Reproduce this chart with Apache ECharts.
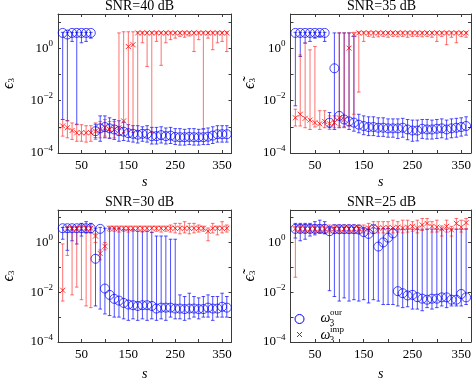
<!DOCTYPE html>
<html><head><meta charset="utf-8">
<script src="https://cdn.jsdelivr.net/npm/echarts@6.0.0/dist/echarts.min.js"></script>
<style>html,body{margin:0;padding:0;background:#fff}#c{width:474px;height:382px}</style>
</head><body><div id="c"></div>
<script>
// sample sizes s
const sVals = [10,20,30,40,50,60,70,80,90,100,110,120,130,140,150,160,170,180,190,200,210,220,230,240,250,260,270,280,290,300,310,320,330,340,350,360];
const xTickLabels = [50,150,250,350];
const titles = ['SNR=40 dB','SNR=35 dB','SNR=30 dB','SNR=25 dB'];

// SNR = 40 dB
const snr40_our    = [3.8,3.3,3.8,3.8,3.8,3.8,3.8,6.8e-4,8.7e-4,9.8e-4,8.7e-4,7.9e-4,6.8e-4,6.5e-4,5.7e-4,5.4e-4,5.0e-4,5.4e-4,5.4e-4,4.4e-4,4.4e-4,4.8e-4,4.4e-4,4.6e-4,4.1e-4,4.0e-4,4.0e-4,4.1e-4,4.0e-4,4.0e-4,4.0e-4,4.2e-4,4.6e-4,5.2e-4,5.2e-4,5.2e-4];
const snr40_our_lo = [1.9e-3,1.7e-3,1.8,1.25e-3,1.6,1.8,2.4,3.8e-4,2.8e-4,3.8e-4,3.6e-4,3.3e-4,2.8e-4,3.0e-4,2.8e-4,2.6e-4,2.4e-4,2.8e-4,2.6e-4,2.2e-4,2.2e-4,2.4e-4,2.2e-4,2.3e-4,2.1e-4,2.0e-4,2.0e-4,2.1e-4,2.0e-4,2.0e-4,2.1e-4,2.1e-4,2.3e-4,2.6e-4,2.6e-4,2.6e-4];
const snr40_our_hi = [4.0,4.0,4.0,4.0,4.0,4.0,4.0,1.25e-3,2.6e-3,2.6e-3,2.2e-3,1.9e-3,1.7e-3,1.5e-3,1.2e-3,1.1e-3,1.1e-3,1.0e-3,1.1e-3,9.5e-4,9.5e-4,1.0e-3,9.0e-4,9.5e-4,8.5e-4,8.5e-4,8.0e-4,8.5e-4,8.5e-4,8.0e-4,8.5e-4,9.0e-4,1.0e-3,1.1e-3,1.1e-3,1.1e-3];
const snr40_imp    = [1.07e-3,9.2e-4,7.2e-4,5.9e-4,5.9e-4,5.9e-4,5.9e-4,6.8e-4,7.9e-4,9.2e-4,7.9e-4,7.9e-4,9.2e-4,1.67e-3,1.15,1.35,3.8,3.8,3.8,3.8,3.8,3.8,3.8,3.8,3.8,3.8,3.8,3.8,3.8,3.8,3.8,3.8,3.8,3.8,3.8,3.8];
const snr40_imp_lo = [4.4e-4,3.8e-4,3.3e-4,2.8e-4,2.8e-4,2.6e-4,2.8e-4,3.3e-4,3.8e-4,4.4e-4,3.8e-4,3.8e-4,5.0e-4,6.0e-4,6.8e-4,6.0e-4,6.8e-4,1.6,0.2,6.0e-4,1.8,0.22,1.6,2.1,2.4,2.8,2.6,2.9,0.74,2.1,7.9e-4,2.4,0.87,1.6,1.8,0.74];
const snr40_imp_hi = [1.9e-3,1.7e-3,1.4e-3,1.2e-3,1.2e-3,1.1e-3,1.1e-3,1.4e-3,1.6e-3,1.9e-3,1.6e-3,1.6e-3,3.8,4.2,4.2,4.2,4.2,4.2,4.2,4.2,4.2,4.2,4.2,4.2,4.2,4.2,4.2,4.2,4.2,4.2,4.2,4.2,4.2,4.2,4.2,4.2];

// SNR = 35 dB
const snr35_our    = [3.8,3.8,3.8,3.8,3.8,3.8,3.8,1.44e-3,0.17,2.6e-3,1.9e-3,1.6e-3,1.44e-3,1.2e-3,1.07e-3,9.8e-4,9.8e-4,9.2e-4,9.2e-4,8.7e-4,8.7e-4,8.7e-4,9.2e-4,7.9e-4,7.2e-4,7.2e-4,8.4e-4,7.9e-4,7.9e-4,8.4e-4,8.7e-4,7.9e-4,8.7e-4,9.2e-4,9.8e-4,1.07e-3];
const snr35_our_lo = [6.3e-3,0.48,1.56,1.8,2.4,2.8,1.8,9.2e-4,7.9e-4,9.2e-4,9.8e-4,7.9e-4,6.8e-4,5.9e-4,5.0e-4,4.6e-4,4.6e-4,4.3e-4,4.3e-4,4.0e-4,4.0e-4,3.6e-4,4.0e-4,3.2e-4,2.8e-4,2.9e-4,3.6e-4,3.4e-4,3.4e-4,3.6e-4,3.8e-4,3.4e-4,3.8e-4,4.0e-4,4.4e-4,4.8e-4];
const snr35_our_hi = [4.0,4.0,4.0,4.0,4.0,4.0,4.0,3.5e-3,3.8,3.8,3.8,3.8,2.8,3.0e-3,2.6e-3,2.4e-3,2.4e-3,2.2e-3,2.2e-3,2.0e-3,2.0e-3,2.0e-3,2.1e-3,1.9e-3,1.8e-3,1.8e-3,1.9e-3,1.9e-3,1.8e-3,1.9e-3,2.0e-3,1.8e-3,2.0e-3,2.1e-3,2.2e-3,2.4e-3];
const snr35_imp    = [2.2e-3,3.0e-3,2.1e-3,1.8e-3,1.44e-3,1.3e-3,1.6e-3,1.3e-3,1.44e-3,2.2e-3,1.9e-3,1.0,3.3,3.8,3.8,3.8,3.8,3.8,3.8,3.8,3.8,3.8,3.8,3.8,3.8,3.8,3.8,3.8,3.8,3.8,3.8,3.8,3.8,3.8,3.8,3.8];
const snr35_imp_lo = [1.07e-3,1.07e-3,9.2e-4,7.9e-4,9.8e-4,7.9e-4,9.2e-4,7.9e-4,9.2e-4,1.07e-3,9.2e-4,1.07e-3,3.0e-3,0.021,1.8,2.8,2.6,2.7,2.8,2.6,2.8,2.7,2.8,2.6,2.8,2.8,2.7,2.8,2.6,1.8,2.8,1.35,2.6,1.6,2.8,2.6];
const snr35_imp_hi = [4.7e-3,0.55,1.56,0.86,1.16,4.1e-3,4.1e-3,2.6e-3,2.6e-3,3.8,3.8,3.8,4.0,4.2,4.2,4.2,4.2,4.2,4.2,4.2,4.2,4.2,4.2,4.2,4.2,4.2,4.2,4.2,4.2,4.2,4.2,4.2,4.2,4.2,4.2,4.2];

// SNR = 30 dB
const snr30_our    = [3.7,3.7,3.7,3.7,3.7,3.7,3.7,0.22,3.5,0.014,7.8e-3,5.4e-3,4.6e-3,3.7e-3,3.2e-3,3.0e-3,2.8e-3,3.0e-3,3.0e-3,2.8e-3,2.2e-3,2.4e-3,2.4e-3,2.4e-3,2.2e-3,2.2e-3,2.1e-3,2.2e-3,2.2e-3,2.1e-3,2.1e-3,2.4e-3,2.2e-3,2.2e-3,2.6e-3,2.4e-3];
const snr30_our_lo = [1.34,0.48,1.16,0.86,1.8,2.4,2.4,2.8e-3,2.1e-3,1.34e-3,1.15e-3,1.0e-3,1.0e-3,8.5e-4,7.4e-4,8.5e-4,7.4e-4,8.5e-4,7.4e-4,8.5e-4,7.4e-4,8.5e-4,7.4e-4,1.0e-3,8.5e-4,8.5e-4,7.4e-4,8.5e-4,1.0e-3,8.5e-4,1.0e-3,1.0e-3,7.4e-4,1.0e-3,1.0e-3,1.0e-3];
const snr30_our_hi = [4.0,4.0,4.0,4.0,5.8,6.8,5.8,3.7,4.0,3.7,3.7,3.7,3.7,3.2,3.2,3.2,2.8,2.8,2.8,2.5,1.8,1.8,1.8,1.34,1.34,7.8e-3,6.7e-3,9.1e-3,6.7e-3,5.9e-3,6.7e-3,7.8e-3,6.7e-3,6.7e-3,9.1e-3,6.7e-3];
const snr30_imp    = [0.012,3.7,3.7,3.7,3.7,3.7,3.7,1.8,0.36,0.7,3.7,3.7,3.7,3.7,3.7,3.7,3.7,3.7,3.7,3.7,3.7,3.7,3.7,3.7,3.7,3.7,3.7,3.7,3.7,3.7,3.7,2.8,3.7,3.7,3.7,3.7];
const snr30_imp_lo = [4.4e-3,0.3,7.8e-3,0.016,5.0e-3,2.8e-3,2.4e-3,1.0,0.2,0.5,2.8,2.8,2.6,2.8,2.6,2.8,2.8,2.6,2.8,2.6,2.8,2.6,2.8,2.6,2.4,2.2,2.4,2.2,2.4,2.6,2.8,1.16,2.4,2.0,2.4,2.6];
const snr30_imp_hi = [0.87,4.2,4.2,4.2,4.2,4.2,4.2,2.2,0.5,1.0,4.5,4.5,4.5,4.5,4.5,4.5,4.5,4.5,4.5,4.5,4.5,4.5,4.5,5.0,5.8,5.8,6.8,5.8,5.8,5.0,4.5,3.8,5.8,4.5,6.8,5.0];

// SNR = 25 dB
const snr25_our    = [3.5,3.5,3.5,3.5,3.5,3.5,3.5,2.8,3.4,3.4,3.4,3.4,3.4,3.3,2.6,2.2,3.4,0.68,1.0,1.55,2.3,0.011,9.1e-3,7.4e-3,7.8e-3,6.3e-3,5.5e-3,5.0e-3,5.5e-3,5.5e-3,6.2e-3,6.2e-3,5.0e-3,5.0e-3,8.5e-3,6.2e-3];
const snr25_our_lo = [1.5,1.16,1.34,1.8,2.0,2.4,2.2,0.0115,6.7e-3,4.4e-3,5.9e-3,4.4e-3,5.0e-3,4.4e-3,5.0e-3,3.7e-3,5.0e-3,4.4e-3,3.2e-3,3.2e-3,3.2e-3,2.8e-3,2.4e-3,2.6e-3,2.1e-3,2.1e-3,1.8e-3,2.4e-3,2.1e-3,2.4e-3,2.8e-3,2.4e-3,2.8e-3,2.8e-3,2.8e-3,3.2e-3];
const snr25_our_hi = [5.8,5.8,5.8,5.8,6.8,7.8,6.8,3.5,4.0,4.0,4.0,4.0,4.0,4.0,3.5,3.4,3.8,3.6,3.6,3.6,3.6,3.4,3.4,3.4,3.4,3.4,3.4,3.4,3.4,3.4,3.4,3.4,3.4,3.4,3.4,3.4];
const snr25_imp    = [3.5,3.5,3.5,3.5,3.5,3.5,3.5,3.5,3.5,3.5,3.5,3.5,3.5,3.5,3.5,3.8,4.4,3.8,3.8,4.0,3.8,4.1,3.8,4.1,4.4,3.8,5.0,5.8,4.4,4.1,3.5,4.4,3.2,5.8,4.1,6.2];
const snr25_imp_lo = [0.04,2.4,2.4,2.4,2.4,2.4,2.4,2.4,2.4,2.4,2.4,2.4,2.4,2.4,2.4,2.2,2.6,2.4,2.4,2.6,2.4,2.6,2.4,2.6,2.8,2.4,3.0,3.4,2.6,2.6,1.8,2.6,1.8,3.4,2.6,3.6];
const snr25_imp_hi = [4.4,5.0,5.0,5.0,5.0,5.0,5.0,5.0,5.0,5.0,5.0,5.0,5.0,5.0,5.0,5.8,6.8,6.8,6.8,6.8,7.8,6.8,7.8,7.8,6.8,7.8,9.1,9.1,6.8,7.8,4.6,7.8,4.4,9.1,7.8,9.1];

const panelData = [
  [snr40_our, snr40_our_lo, snr40_our_hi, snr40_imp, snr40_imp_lo, snr40_imp_hi],
  [snr35_our, snr35_our_lo, snr35_our_hi, snr35_imp, snr35_imp_lo, snr35_imp_hi],
  [snr30_our, snr30_our_lo, snr30_our_hi, snr30_imp, snr30_imp_lo, snr30_imp_hi],
  [snr25_our, snr25_our_lo, snr25_our_hi, snr25_imp, snr25_imp_lo, snr25_imp_hi]
];

const FONT = 'Liberation Serif';
const grids = [
  {left:47.5, top:14, width:184, height:139},
  {left:290.5, top:14, width:182, height:139},
  {left:47.5, top:210, width:184, height:138},
  {left:290.5, top:210, width:182, height:138}
];
const BLUE = '#0000ff', RED = '#ff0000';
const BLUE_BAR = 'rgba(20,20,255,0.75)', RED_BAR = 'rgba(255,20,20,0.6)';
const AXC = '#3a3a3a';

function errBar(xi, xs, lo, hi, color) {
  return {
    type:'custom', xAxisIndex:xi, yAxisIndex:xi, silent:true, animation:false, clip:true,
    data: xs.map((x,k)=>[x, lo[k], hi[k]]),
    encode:{x:0, y:[1,2]},
    renderItem(params, api) {
      const x = api.value(0);
      const p1 = api.coord([x, api.value(1)]);
      const p2 = api.coord([x, api.value(2)]);
      const w = 1.8;
      const st = {stroke:color, lineWidth:1};
      return {type:'group', children:[
        {type:'line', shape:{x1:p1[0], y1:p1[1], x2:p2[0], y2:p2[1]}, style:st},
        {type:'line', shape:{x1:p1[0]-w, y1:p1[1], x2:p1[0]+w, y2:p1[1]}, style:st},
        {type:'line', shape:{x1:p2[0]-w, y1:p2[1], x2:p2[0]+w, y2:p2[1]}, style:st}
      ]};
    }
  };
}

const xAxes = [], yAxes = [], series = [], titleArr = [];
grids.forEach((g, i) => {
  const common = {gridIndex:i, min:0, max:370, interval:50, splitLine:{show:false},
    axisLine:{show:true, onZero:false, lineStyle:{color:AXC, width:1}},
    axisTick:{show:true, inside:true, length:3, lineStyle:{color:AXC}}};
  xAxes.push(Object.assign({}, common, {type:'value', position:'bottom',
    axisLabel:{color:'#000', fontFamily:FONT, fontSize:13, margin:6,
      formatter: v => xTickLabels.includes(v) ? String(v) : ''},
    name:'s', nameLocation:'middle', nameGap: i < 2 ? 22 : 25,
    nameTextStyle:{fontFamily:FONT, fontStyle:'italic', fontSize:14, color:'#000'}}));
  xAxes.push(Object.assign({}, common, {type:'value', position:'top', axisLabel:{show:false}}));
  const ycommon = {gridIndex:i, type:'log', logBase:10, min:1e-4, max:20, interval:1,
    splitLine:{show:false}, axisLine:{show:true, onZero:false, lineStyle:{color:AXC, width:1}},
    axisTick:{show:true, inside:true, length:3, lineStyle:{color:AXC}}};
  const right = (i % 2 === 1);
  yAxes.push(Object.assign({}, ycommon, {position:'left',
    axisLabel:{margin:5, showMaxLabel:false,
      formatter: v => { const e = Math.round(Math.log10(v)); if (e % 2 !== 0 || e > 0) return ''; return '{b|10}{s|' + (e < 0 ? '\u2212' + (-e) : e) + '}'; },
      rich:{ b:{fontFamily:FONT, fontSize:13, color:'#000'}, s:{fontFamily:FONT, fontSize:9, color:'#000', padding:[0,0,9,0]} }},
    name: right ? '{e|\u03f5\u0303}{sub|3}' : '{e|\u03f5}{sub|3}',
    nameLocation:'middle', nameRotate:90, nameGap: right ? 33 : 41,
    nameTextStyle:{rich:{ e:{fontFamily:FONT, fontStyle:'italic', fontSize:16, color:'#000'}, sub:{fontFamily:FONT, fontSize:9, color:'#000', padding:[6,0,0,0]} }}}));
  yAxes.push(Object.assign({}, ycommon, {position:'right', axisLabel:{show:false}}));

  const d = panelData[i];
  const xi = 2*i;
  series.push(errBar(xi, sVals, d[1], d[2], BLUE_BAR));
  series.push({type:'scatter', xAxisIndex:xi, yAxisIndex:xi, animation:false, silent:true,
    symbol:'circle', symbolSize:9, itemStyle:{color:'rgba(0,0,0,0)', borderColor:BLUE, borderWidth:0.9},
    data: sVals.map((x,k)=>[x, d[0][k]])});
  series.push(errBar(xi, sVals, d[4], d[5], RED_BAR));
  series.push({type:'scatter', xAxisIndex:xi, yAxisIndex:xi, animation:false, silent:true,
    symbol:'path://M0,0L10,10M10,0L0,10', symbolSize:5,
    itemStyle:{color:'none', borderColor:RED, borderWidth:1},
    data: sVals.map((x,k)=>[x, d[3][k]])});

  titleArr.push({text:titles[i], left: g.left + g.width/2, top: g.top - 15, textAlign:'center', padding:0,
    textStyle:{fontFamily:FONT, fontSize:14, fontWeight:'normal', color:'#000'}});
});

const lgText = (t, x, y, size, italic) => ({type:'text', x, y, style:{text:t, fontFamily:FONT, fontSize:size, fontStyle: italic ? 'italic':'normal', fill:'#000', textVerticalAlign:'middle'}});
const graphic = [
  {type:'circle', shape:{cx:299.5, cy:319, r:4.5}, style:{fill:'none', stroke:BLUE, lineWidth:1}},
  {type:'line', shape:{x1:297, y1:332, x2:302, y2:337}, style:{stroke:RED, lineWidth:1}},
  {type:'line', shape:{x1:302, y1:332, x2:297, y2:337}, style:{stroke:RED, lineWidth:1}},
  lgText('\u03c9', 320.5, 318, 14, true), lgText('3', 329.5, 323.5, 9.5, false), lgText('our', 330, 313, 9, false),
  lgText('\u03c9', 320.5, 335, 14, true), lgText('3', 329.5, 340.5, 9.5, false), lgText('imp', 330, 330, 9, false)
];

const chart = echarts.init(document.getElementById('c'), null, {renderer:'canvas'});
chart.setOption({
  backgroundColor:'#fff', animation:false,
  title: titleArr, grid: grids, xAxis: xAxes, yAxis: yAxes, series, graphic
});
</script></body></html>
